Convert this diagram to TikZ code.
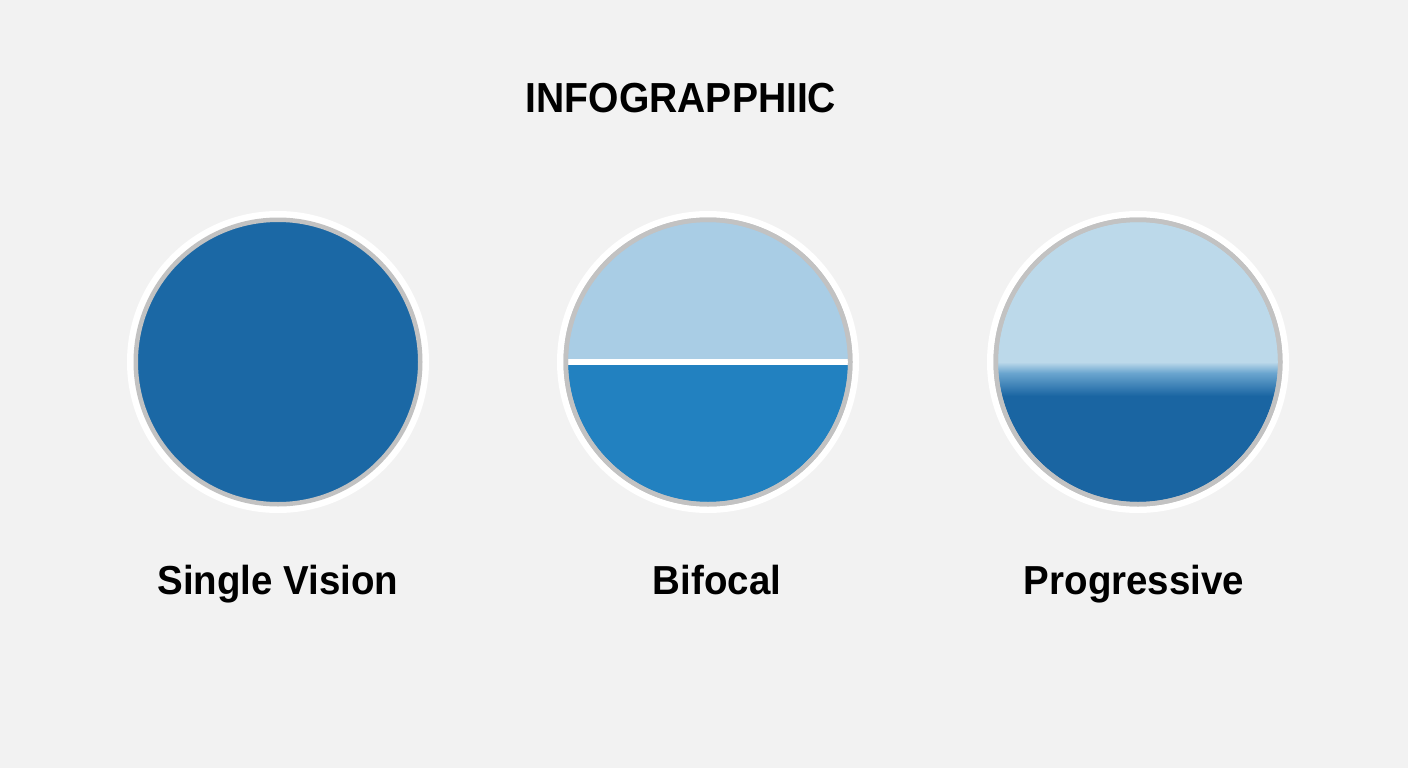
\documentclass[tikz,border=0pt]{standalone}
\usepackage{fontspec}
\newfontfamily\titlefont[FakeStretch=0.93]{Liberation Sans}
\newfontfamily\labelfont[FakeStretch=0.95]{Liberation Sans}
\definecolor{bg}{HTML}{F2F2F2}
\definecolor{ringgray}{HTML}{C2C2C2}
\definecolor{singleblue}{HTML}{1B68A5}
\definecolor{bifolight}{HTML}{A9CDE5}
\definecolor{bifodark}{HTML}{2281C0}
\definecolor{proglight}{HTML}{BCD9EA}
\definecolor{progmid}{HTML}{6AA5CF}
\definecolor{progdark}{HTML}{1A65A2}
\begin{document}
\begin{tikzpicture}[x=1pt,y=-1pt,
  lens/.style={circle, minimum size=284.5pt, inner sep=0pt, outer sep=0pt, draw=ringgray, line width=4.5pt},
  halo/.style={fill=white},
  lenslabel/.style={font=\labelfont\bfseries\fontsize{40.5}{42}\selectfont, text=black, anchor=base, inner sep=0pt}]
\fill[bg] (0,0) rectangle (1408,768);
\useasboundingbox (0,0) rectangle (1408,768);

\node[font=\titlefont\bfseries\fontsize{42}{44}\selectfont, anchor=base, inner sep=0pt] (title) at (681,112) {INFOGRAPPHIIC};

% Single vision
\fill[halo] (278,362) circle (151);
\node[lens, fill=singleblue] (single) at (278,362) {};

% Bifocal
\fill[halo] (708,362) circle (151);
\node[lens, path picture={
  \fill[bifolight] (path picture bounding box.north west) rectangle (path picture bounding box.east);
  \fill[bifodark] (path picture bounding box.south west) rectangle (path picture bounding box.east);
  \fill[white] ([yshift=2.6pt]path picture bounding box.west) rectangle ([yshift=-2.6pt]path picture bounding box.east);
}] (bifocal) at (708,362) {};
\draw[ringgray, line width=4.5pt] (bifocal.center) circle (142.25);

% Progressive
\fill[halo] (1138,362) circle (151);
\node[lens, path picture={
  \fill[proglight] (path picture bounding box.north west) rectangle ([yshift=0pt]path picture bounding box.east);
  \shade[top color=proglight, bottom color=progmid] (path picture bounding box.west) rectangle ([yshift=-11pt]path picture bounding box.east);
  \shade[top color=progmid, bottom color=progdark] ([yshift=-11pt]path picture bounding box.west) rectangle ([yshift=-34pt]path picture bounding box.east);
  \fill[progdark] ([yshift=-34pt]path picture bounding box.west) rectangle (path picture bounding box.south east);
}] (progressive) at (1138,362) {};
\draw[ringgray, line width=4.5pt] (progressive.center) circle (142.25);

% Labels
\node[lenslabel] (l1) at (278,594) {Single Vision};
\node[lenslabel] (l2) at (717,594) {Bifocal};
\node[lenslabel] (l3) at (1134,594) {Progressive};
\end{tikzpicture}
\end{document}
